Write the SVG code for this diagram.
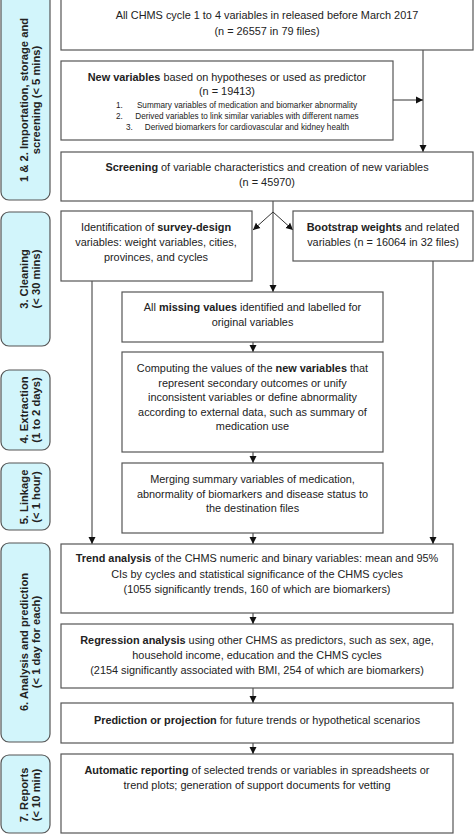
<svg xmlns="http://www.w3.org/2000/svg" width="474" height="835" viewBox="0 0 474 835">
<style>
.box{fill:#fff;stroke:#555;stroke-width:1.2}
.side{fill:#d2f5fb;stroke:#555;stroke-width:1.2}
.t{font-family:"Liberation Sans",Arial,sans-serif;font-size:10.9px;fill:#222;text-anchor:middle}
.s{font-family:"Liberation Sans",Arial,sans-serif;font-size:8.2px;fill:#222}
.st{font-family:"Liberation Sans",Arial,sans-serif;font-size:11.2px;font-weight:bold;fill:#222;text-anchor:middle}
.b{font-weight:bold}
.c{fill:none;stroke:#333;stroke-width:1}
</style>
<defs>
<marker id="ah" markerWidth="8" markerHeight="8" refX="7" refY="4" orient="auto" markerUnits="userSpaceOnUse">
<path d="M0,0.5 L7,4 L0,7.5 Z" fill="#111"/>
</marker>
</defs>

<g id="side1"><rect class="side" x="1" y="-8" width="49" height="208" rx="8"/>
<text class="st" transform="translate(26,100) rotate(-90)"><tspan x="0" y="1.5">1 &amp; 2. Importation, storage and</tspan><tspan x="0" y="13.5">screening (&lt; 5 mins)</tspan></text></g>
<g id="side3"><rect class="side" x="1" y="212" width="49" height="134" rx="8"/>
<text class="st" transform="translate(26,279) rotate(-90)"><tspan x="0" y="1.5">3. Cleaning</tspan><tspan x="0" y="13.5">(&lt; 30 mins)</tspan></text></g>
<g id="side4"><rect class="side" x="1" y="370" width="49" height="80" rx="8"/>
<text class="st" transform="translate(26,410) rotate(-90)"><tspan x="0" y="1.5">4. Extraction</tspan><tspan x="0" y="13.5">(1 to 2 days)</tspan></text></g>
<g id="side5"><rect class="side" x="1" y="463" width="49" height="67" rx="8"/>
<text class="st" transform="translate(26,497) rotate(-90)"><tspan x="0" y="1.5">5. Linkage</tspan><tspan x="0" y="13.5">(&lt; 1 hour)</tspan></text></g>
<g id="side6"><rect class="side" x="1" y="543" width="49" height="199" rx="8"/>
<text class="st" transform="translate(26,642) rotate(-90)"><tspan x="0" y="1.5">6. Analysis and prediction</tspan><tspan x="0" y="13.5">(&lt; 1 day for each)</tspan></text></g>
<g id="side7"><rect class="side" x="1" y="755" width="49" height="78" rx="8"/>
<text class="st" transform="translate(26,795) rotate(-90)"><tspan x="0" y="1.5">7. Reports</tspan><tspan x="0" y="13.5">(&lt; 10 min)</tspan></text></g>

<g id="connectors">
<line class="c" x1="423" y1="50" x2="423" y2="152" marker-end="url(#ah)"/>
<line class="c" x1="393" y1="100" x2="423" y2="100" marker-end="url(#ah)"/>
<line class="c" x1="273" y1="201" x2="273" y2="212"/>
<line class="c" x1="273" y1="212" x2="253" y2="230" marker-end="url(#ah)"/>
<line class="c" x1="273" y1="212" x2="293" y2="230" marker-end="url(#ah)"/>
<line class="c" x1="273" y1="212" x2="273" y2="292" marker-end="url(#ah)"/>
<line class="c" x1="253" y1="342" x2="253" y2="352" marker-end="url(#ah)"/>
<line class="c" x1="253" y1="452" x2="253" y2="463" marker-end="url(#ah)"/>
<line class="c" x1="253" y1="533" x2="253" y2="544" marker-end="url(#ah)"/>
<line class="c" x1="92" y1="281" x2="92" y2="544" marker-end="url(#ah)"/>
<line class="c" x1="433" y1="261" x2="433" y2="544" marker-end="url(#ah)"/>
<line class="c" x1="253" y1="613" x2="253" y2="624" marker-end="url(#ah)"/>
<line class="c" x1="253" y1="688" x2="253" y2="703" marker-end="url(#ah)"/>
<line class="c" x1="253" y1="743" x2="253" y2="754" marker-end="url(#ah)"/>
</g>

<g id="n-all"><rect class="box" x="61" y="-2" width="412" height="52"/>
<text class="t" x="267" y="19">All CHMS cycle 1 to 4 variables in released before March 2017</text>
<text class="t" x="267" y="35">(n = 26557 in 79 files)</text></g>

<g id="n-new"><rect class="box" x="61" y="61" width="332" height="79"/>
<text class="t" x="227" y="81"><tspan class="b">New variables</tspan> based on hypotheses or used as predictor</text>
<text class="t" x="227" y="95">(n = 19413)</text>
<text class="s" x="116" y="107.5">1.</text><text class="s" x="247" y="107.5" text-anchor="middle">Summary variables of medication and biomarker abnormality</text>
<text class="s" x="116" y="119">2.</text><text class="s" x="247" y="119" text-anchor="middle">Derived variables to link similar variables with different names</text>
<text class="s" x="126" y="130">3.</text><text class="s" x="247" y="130" text-anchor="middle">Derived biomarkers for cardiovascular and kidney health</text></g>

<g id="n-screen"><rect class="box" x="61" y="152" width="412" height="49"/>
<text class="t" x="267" y="171"><tspan class="b">Screening</tspan> of variable characteristics and creation of new variables</text>
<text class="t" x="267" y="186">(n = 45970)</text></g>

<g id="n-survey"><rect class="box" x="61" y="211" width="191" height="70"/>
<text class="t" x="156" y="231">Identification of <tspan class="b">survey-design</tspan></text>
<text class="t" x="156" y="246">variables: weight variables, cities,</text>
<text class="t" x="156" y="261">provinces, and cycles</text></g>

<g id="n-boot"><rect class="box" x="293" y="211" width="180" height="50"/>
<text class="t" x="383" y="231"><tspan class="b">Bootstrap weights</tspan> and related</text>
<text class="t" x="383" y="246">variables (n = 16064 in 32 files)</text></g>

<g id="n-missing"><rect class="box" x="122" y="292" width="261" height="50"/>
<text class="t" x="252.5" y="311">All <tspan class="b">missing values</tspan> identified and labelled for</text>
<text class="t" x="252.5" y="326">original variables</text></g>

<g id="n-compute"><rect class="box" x="122" y="352" width="261" height="100"/>
<text class="t" x="252.5" y="372">Computing the values of the <tspan class="b">new variables</tspan> that</text>
<text class="t" x="252.5" y="386.5">represent secondary outcomes or unify</text>
<text class="t" x="252.5" y="401">inconsistent variables or define abnormality</text>
<text class="t" x="252.5" y="415.5">according to external data, such as summary of</text>
<text class="t" x="252.5" y="430">medication use</text></g>

<g id="n-link"><rect class="box" x="122" y="463" width="261" height="70"/>
<text class="t" x="252.5" y="483">Merging summary variables of medication,</text>
<text class="t" x="252.5" y="497.5">abnormality of biomarkers and disease status to</text>
<text class="t" x="252.5" y="512">the destination files</text></g>

<g id="n-trend"><rect class="box" x="61" y="544" width="392" height="69"/>
<text class="t" x="257" y="562"><tspan class="b">Trend analysis</tspan> of the CHMS numeric and binary variables: mean and 95%</text>
<text class="t" x="257" y="577.5">CIs by cycles and statistical significance of the CHMS cycles</text>
<text class="t" x="257" y="592.5">(1055 significantly trends, 160 of which are biomarkers)</text></g>

<g id="n-reg"><rect class="box" x="61" y="624" width="392" height="64"/>
<text class="t" x="257" y="644"><tspan class="b">Regression analysis</tspan> using other CHMS as predictors, such as sex, age,</text>
<text class="t" x="257" y="659">household income, education and the CHMS cycles</text>
<text class="t" x="257" y="673.5">(2154 significantly associated with BMI, 254 of which are biomarkers)</text></g>

<g id="n-pred"><rect class="box" x="61" y="703" width="392" height="40"/>
<text class="t" x="257" y="724"><tspan class="b">Prediction or projection</tspan> for future trends or hypothetical scenarios</text></g>

<g id="n-report"><rect class="box" x="61" y="754" width="392" height="79"/>
<text class="t" x="257" y="774"><tspan class="b">Automatic reporting</tspan> of selected trends or variables in spreadsheets or</text>
<text class="t" x="257" y="789">trend plots; generation of support documents for vetting</text></g>
</svg>
